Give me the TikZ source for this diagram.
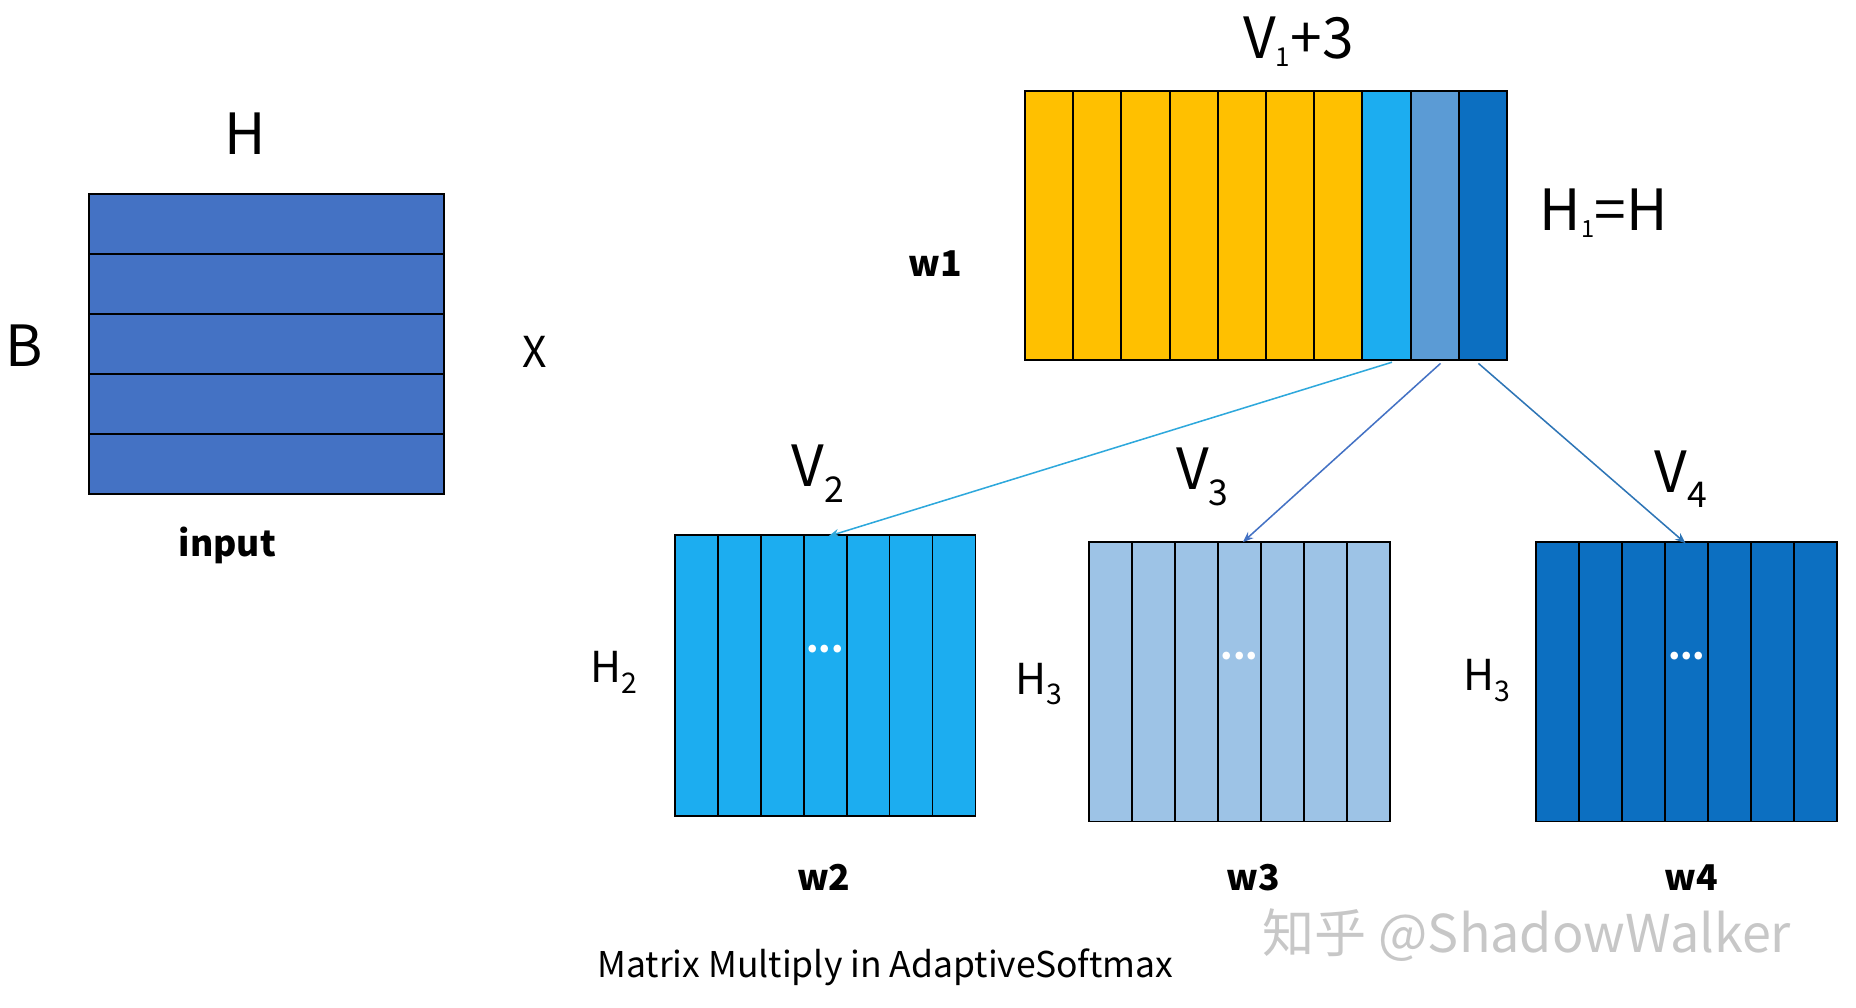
\documentclass[tikz,border=0pt]{standalone}
\usepackage{fontspec}
\setmainfont{Noto Sans CJK SC}
\usetikzlibrary{arrows.meta}
\definecolor{inblue}{HTML}{4472C4}
\definecolor{yel}{HTML}{FFC000}
\definecolor{lb}{HTML}{1CADF0}
\definecolor{mb}{HTML}{5B9BD5}
\definecolor{db}{HTML}{0C6FC1}
\definecolor{pb}{HTML}{9DC3E6}
\newcommand{\fs}[1]{\fontsize{#1}{#1}\selectfont}
\tikzset{cell/.style={draw=black,line width=1.6pt},
 big/.style={font=\fs{48}},
 mid/.style={font=\fs{36}},
 lbl/.style={font=\fs{30}\bfseries},
 conn/.style={line width=1.3pt,-{Stealth[length=9pt,width=7pt]}}}
\begin{document}
\begin{tikzpicture}[x=1pt,y=-1pt]
\useasboundingbox (0,0) rectangle (1568,851);
% input
\foreach \i in {0,...,4} \fill[inblue,cell] (75,164+\i*50.6) rectangle (375,164+\i*50.6+50.6);
\node[big] (H) at (207,113) {H};
\node[big] (B) at (20,292) {B};
\node[lbl] (input) at (192,461) {input};
\node[mid] (X) at (452,297) {X};
% w1
\foreach \i in {0,...,6} \filldraw[fill=yel,cell] (866+\i*40.7,77) rectangle (866+\i*40.7+40.7,304);
\filldraw[fill=lb,cell] (1151,77) rectangle (1192,304);
\filldraw[fill=mb,cell] (1192,77) rectangle (1232.5,304);
\filldraw[fill=db,cell] (1232.5,77) rectangle (1273,304);
\node[big] (V1) at (1097,35) {V\textsubscript{\fs{22}1}+3};
\node[big] (H1) at (1355,180) {H\textsubscript{\fs{20}1}=H};
\node[lbl] (w1) at (790,223) {w1};
% w2
\foreach \i in {0,...,6} \filldraw[fill=lb,cell] (570+\i*36.3,452) rectangle (570+\i*36.3+36.3,689);
\node[font=\fs{30}\bfseries,text=white] (d2) at (697,548) {...};
\node[big] (V2) at (691,400) {V\textsubscript{\fs{30}2}};
\node[mid] (H2) at (519,568) {H\textsubscript{\fs{24}2}};
\node[lbl] (w2) at (696,741) {w2};
% w3
\foreach \i in {0,...,6} \filldraw[fill=pb,cell] (920+\i*36.3,458) rectangle (920+\i*36.3+36.3,694);
\node[font=\fs{30}\bfseries,text=white] (d3) at (1047,554) {...};
\node[big] (V3) at (1016,403) {V\textsubscript{\fs{30}3}};
\node[mid] (H3) at (878,578) {H\textsubscript{\fs{24}3}};
\node[lbl] (w3) at (1059,741) {w3};
% w4
\foreach \i in {0,...,6} \filldraw[fill=db,cell] (1298+\i*36.3,458) rectangle (1298+\i*36.3+36.3,694);
\node[font=\fs{30}\bfseries,text=white] (d4) at (1425,554) {...};
\node[big] (V4) at (1420,405) {V\textsubscript{\fs{30}4}};
\node[mid] (H4) at (1256,575) {H\textsubscript{\fs{24}3}};
\node[lbl] (w4) at (1429,741) {w4};
% connectors
\coordinate (s2) at (1176,306); \coordinate (t2) at (700,453);
\coordinate (s3) at (1217,307); \coordinate (t3) at (1050,458);
\coordinate (s4) at (1249,307); \coordinate (t4) at (1424,459);
\draw[conn,color={rgb,255:red,46;green,168;blue,220}] (s2) -- (t2);
\draw[conn,color=inblue] (s3) -- (t3);
\draw[conn,color={rgb,255:red,46;green,117;blue,182}] (s4) -- (t4);
\node[font=\fs{30}] (cap) at (748,817) {Matrix Multiply in AdaptiveSoftmax};
\node[font=\fs{44},text=black!22] (wm) at (1290,790) {知乎 @ShadowWalker};
\end{tikzpicture}
\end{document}
